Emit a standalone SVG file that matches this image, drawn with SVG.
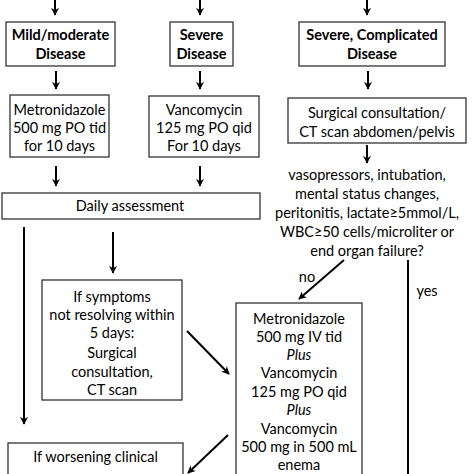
<svg xmlns="http://www.w3.org/2000/svg" width="474" height="474" viewBox="0 0 474 474">
<defs>
<marker id="ah" viewBox="0 0 10 10" refX="9" refY="5" markerWidth="4" markerHeight="4" orient="auto" markerUnits="strokeWidth">
<path d="M0,0 L10,5 L0,10 L3,5 Z" fill="#000"/>
</marker>
<style>
.box{fill:#fff;stroke:#333;stroke-width:1.3}
.t{font-family:Lato,"Open Sans","Liberation Sans",sans-serif;font-size:14.5px;fill:#000;text-anchor:middle}
.b{font-weight:bold}
.i{font-style:italic}
.c{stroke:#000;stroke-width:2;fill:none;marker-end:url(#ah)}
.l{stroke:#000;stroke-width:2;fill:none}
</style>
</defs>
<rect width="474" height="474" fill="#fff"/>
<g id="connectors">
<line class="c" x1="55" y1="0" x2="55" y2="15"/>
<line class="c" x1="200" y1="0" x2="200" y2="15"/>
<line class="c" x1="367" y1="0" x2="367" y2="15"/>
<line class="c" x1="56" y1="71" x2="56" y2="89"/>
<line class="c" x1="200" y1="71" x2="200" y2="89"/>
<line class="c" x1="368" y1="71" x2="368" y2="89"/>
<line class="c" x1="56" y1="166" x2="56" y2="186"/>
<line class="c" x1="200" y1="166" x2="200" y2="186"/>
<line class="c" x1="367" y1="145" x2="367" y2="163"/>
<line class="c" x1="24" y1="227" x2="24" y2="424"/>
<line class="c" x1="113" y1="232" x2="113" y2="273"/>
<line class="c" x1="187" y1="331" x2="229" y2="374"/>
<line class="c" x1="344" y1="260" x2="299" y2="299"/>
<line class="l" x1="408" y1="260" x2="408" y2="474"/>
<line class="c" x1="228" y1="435" x2="188" y2="473"/>
<text class="t" x="307" y="282">no</text>
<text class="t" x="427" y="296">yes</text>
</g>
<g id="mild">
<rect class="box" x="6" y="22" width="109" height="44"/>
<text class="t b" x="60.5" y="40">Mild/moderate</text>
<text class="t b" x="60.5" y="59">Disease</text>
</g>
<g id="severe">
<rect class="box" x="170" y="22" width="63" height="44"/>
<text class="t b" x="201.5" y="40">Severe</text>
<text class="t b" x="201.5" y="59">Disease</text>
</g>
<g id="complicated">
<rect class="box" x="299" y="22" width="146" height="44"/>
<text class="t b" x="372" y="40">Severe, Complicated</text>
<text class="t b" x="372" y="59">Disease</text>
</g>
<g id="metro-po">
<rect class="box" x="10" y="95" width="99" height="62"/>
<text class="t" x="59.5" y="115">Metronidazole</text>
<text class="t" x="59.5" y="133">500 mg PO tid</text>
<text class="t" x="59.5" y="151">for 10 days</text>
</g>
<g id="vanco-po">
<rect class="box" x="149" y="96" width="110" height="61"/>
<text class="t" x="204" y="115">Vancomycin</text>
<text class="t" x="204" y="133">125 mg PO qid</text>
<text class="t" x="204" y="151">For 10 days</text>
</g>
<g id="surgical">
<rect class="box" x="288" y="98" width="178" height="45"/>
<text class="t" x="377" y="118">Surgical consultation/</text>
<text class="t" x="377" y="137">CT scan abdomen/pelvis</text>
</g>
<g id="question">
<text class="t" x="367" y="180">vasopressors, intubation,</text>
<text class="t" x="367" y="199">mental status changes,</text>
<text class="t" x="367" y="218">peritonitis, lactate≥5mmol/L,</text>
<text class="t" x="367" y="237">WBC≥50 cells/microliter or</text>
<text class="t" x="367" y="256">end organ failure?</text>
</g>
<g id="daily">
<rect class="box" x="2" y="193" width="258" height="26"/>
<text class="t" x="130" y="211">Daily assessment</text>
</g>
<g id="not-resolving">
<rect class="box" x="42" y="280" width="140" height="120"/>
<text class="t" x="112" y="302">If symptoms</text>
<text class="t" x="112" y="320">not resolving within</text>
<text class="t" x="112" y="338">5 days:</text>
<text class="t" x="112" y="358">Surgical</text>
<text class="t" x="112" y="377">consultation,</text>
<text class="t" x="112" y="395">CT scan</text>
</g>
<g id="combo">
<rect class="box" x="236" y="303" width="126" height="180"/>
<text class="t" x="299" y="324">Metronidazole</text>
<text class="t" x="299" y="342">500 mg IV tid</text>
<text class="t i" x="299" y="360">Plus</text>
<text class="t" x="299" y="378">Vancomycin</text>
<text class="t" x="299" y="397">125 mg PO qid</text>
<text class="t i" x="299" y="415">Plus</text>
<text class="t" x="299" y="434">Vancomycin</text>
<text class="t" x="299" y="452">500 mg in 500 mL</text>
<text class="t" x="299" y="470">enema</text>
</g>
<g id="worsening">
<rect class="box" x="8" y="443" width="175" height="40"/>
<text class="t" x="95.5" y="462">If worsening clinical</text>
</g>
</svg>
